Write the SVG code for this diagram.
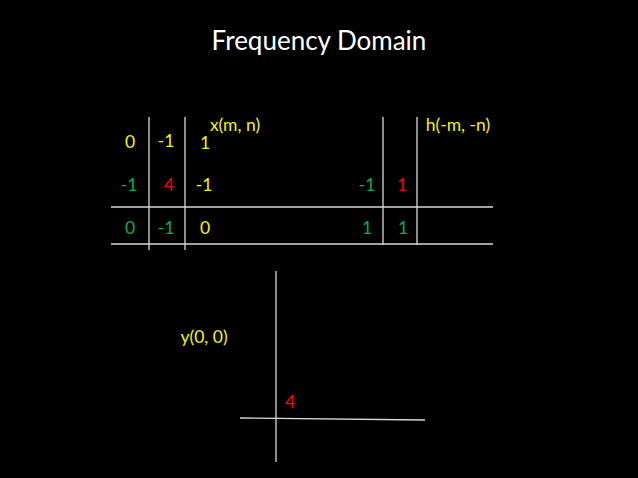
<svg xmlns="http://www.w3.org/2000/svg" width="638" height="478" viewBox="0 0 638 478">
<style>
text{font-family:Lato,"Liberation Sans",sans-serif;font-size:17.5px;text-anchor:middle}
.y{fill:#f5f500}.g{fill:#00b050}.r{fill:#ff0000}
.ln{stroke:#d9d9d9;stroke-width:1.3;fill:none}
</style>
<rect width="638" height="478" fill="#000"/>
<text x="319" y="50" fill="#fff" style="font-size:26px">Frequency Domain</text>
<g id="connectors">
<line class="ln" x1="149" y1="117" x2="149" y2="250"/>
<line class="ln" x1="185" y1="117" x2="185" y2="250"/>
<line class="ln" x1="383" y1="117" x2="383" y2="245"/>
<line class="ln" x1="417" y1="117" x2="417" y2="245"/>
<line class="ln" x1="111" y1="207" x2="493" y2="207"/>
<line class="ln" x1="111" y1="244" x2="493" y2="244"/>
<line class="ln" x1="276" y1="271" x2="276" y2="462"/>
<line class="ln" x1="240" y1="418" x2="425" y2="420"/>
</g>
<g id="x-grid">
<text class="y" x="235" y="131">x(m, n)</text>
<text class="y" x="130" y="148">0</text>
<text class="y" x="166" y="147">-1</text>
<text class="y" x="205" y="149">1</text>
<text class="g" x="129" y="191">-1</text>
<text class="r" x="169" y="191">4</text>
<text class="y" x="204" y="191">-1</text>
<text class="g" x="130" y="234">0</text>
<text class="g" x="166" y="234">-1</text>
<text class="y" x="205" y="234">0</text>
</g>
<g id="h-grid">
<text class="y" x="458" y="131">h(-m, -n)</text>
<text class="g" x="367" y="191">-1</text>
<text class="r" x="402" y="191">1</text>
<text class="g" x="367" y="234">1</text>
<text class="g" x="403" y="234">1</text>
</g>
<g id="y-out">
<text class="y" x="204" y="343">y(0, 0)</text>
<text class="r" x="290" y="408">4</text>
</g>
</svg>
